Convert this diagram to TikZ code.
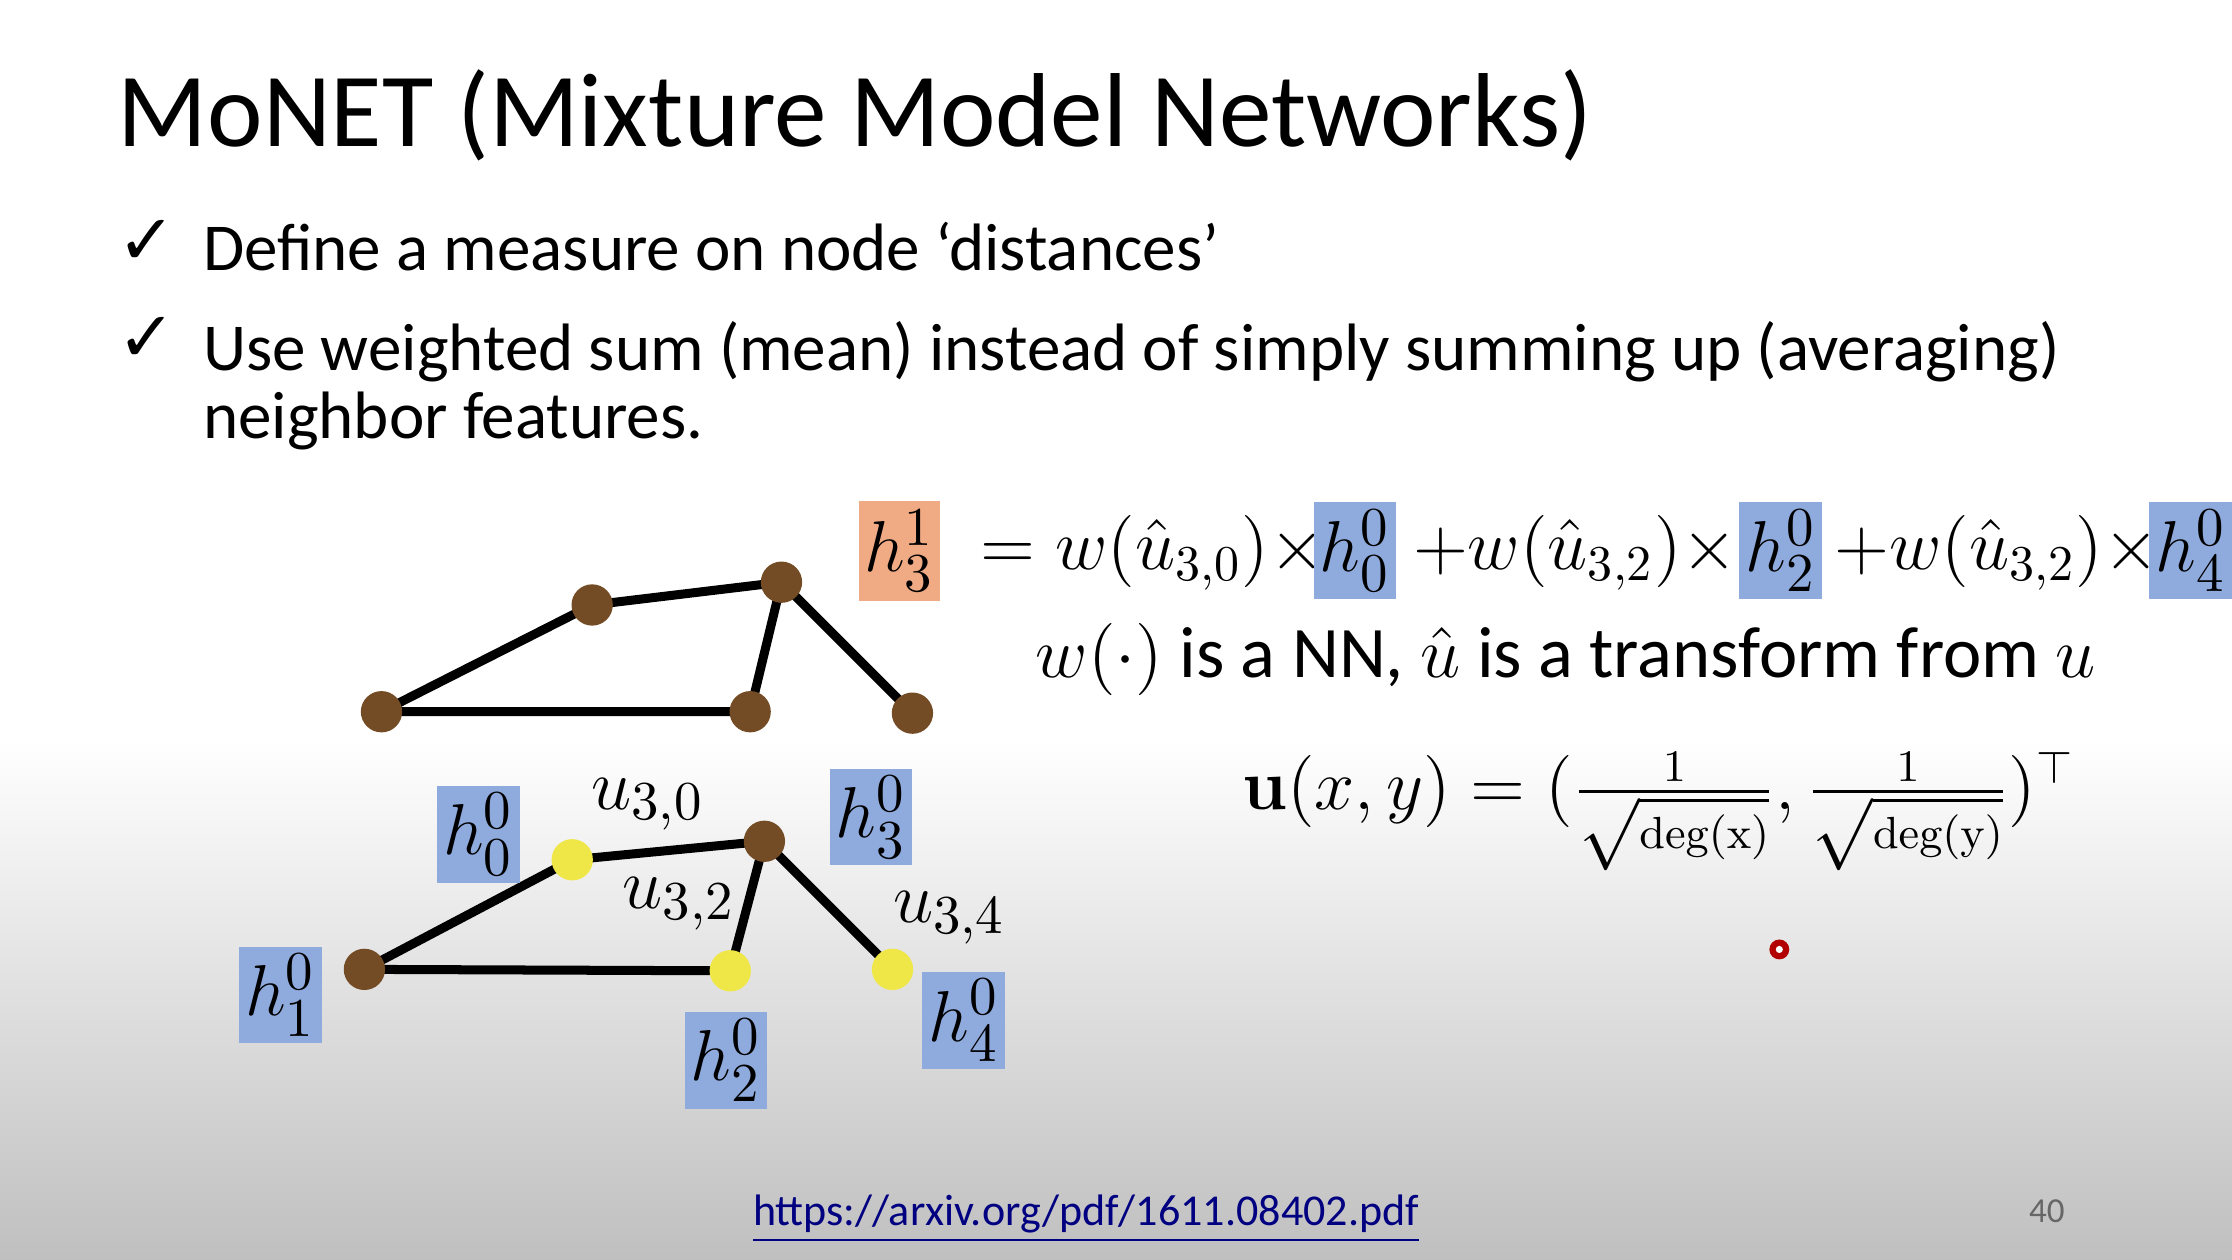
\documentclass[tikz,border=0pt]{standalone}
\usepackage{amsmath}
\usepackage[no-math]{fontspec}
\setmainfont{Carlito}
\newfontfamily\symfont{DejaVu Sans}
\definecolor{hblue}{HTML}{8FAADC}
\definecolor{horange}{HTML}{F0AB85}
\begin{document}
\begin{tikzpicture}[x=0.01cm,y=-0.01cm,
  br/.style={circle,fill=brown!60!black,draw=none,minimum size=0.29cm,inner sep=0},
  yl/.style={circle,fill=yellow!80!olive!70!white,draw=none,minimum size=0.29cm,inner sep=0},
  edge/.style={line width=1.8pt,black},
  hb/.style={fill=hblue,minimum width=0.58cm,minimum height=0.68cm,inner sep=0,font=\fontsize{15}{18}\selectfont},
  ob/.style={fill=horange,minimum width=0.57cm,minimum height=0.70cm,inner sep=0,font=\fontsize{15}{18}\selectfont},
  eq/.style={anchor=base west,inner sep=0,font=\fontsize{14.6}{18}\selectfont},
  ul/.style={font=\fontsize{15}{18}\selectfont,inner sep=0}]
\useasboundingbox (0,0) rectangle (1568,885);
\fill[white] (0,0) rectangle (1568,520);
\shade[top color=white,bottom color=black!25] (0,520) rectangle (1568,885);
\node[anchor=base west,inner sep=0,font=\fontsize{21}{25}\selectfont] (title) at (82,103) {MoNET (Mixture Model Networks)};
\node[anchor=base west,inner sep=0,font=\fontsize{14}{16}\selectfont\symfont] (c1) at (82,186) {✓};
\node[anchor=base west,inner sep=0,font=\fontsize{14}{16}\selectfont\symfont] (c2) at (82,254) {✓};
\node[anchor=base west,inner sep=0,font=\fontsize{13.4}{16}\selectfont] (b1) at (142,190) {Define a measure on node ‘distances’};
\node[anchor=base west,inner sep=0,font=\fontsize{13.4}{16}\selectfont] (b2) at (142,260) {Use weighted sum (mean) instead of simply summing up (averaging)};
\node[anchor=base west,inner sep=0,font=\fontsize{13.4}{16}\selectfont] (b3) at (142,308) {neighbor features.};
% top graph
\draw[edge] (268,500)--(416,425)--(549,409)--(527,500)--(268,500);
\draw[edge] (549,409)--(641,501);
\node[br] (a1) at (268,500) {};
\node[br] (a0) at (416,425) {};
\node[br] (a3) at (549,409) {};
\node[br] (a2) at (527,500) {};
\node[br] (a4) at (641,501) {};
% bottom graph
\draw[edge] (256,681)--(402,604)--(537,591)--(513,682)--(256,681);
\draw[edge] (537,591)--(627,681);
\node[br] (n1) at (256,681) {};
\node[yl] (n0) at (402,604) {};
\node[br] (n3) at (537,591) {};
\node[yl] (n2) at (513,682) {};
\node[yl] (n4) at (627,681) {};
\node[hb] (l0) at (336,586) {$h_0^0$};
\node[hb] (l3) at (612,574) {$h_3^0$};
\node[hb] (l1) at (197,699) {$h_1^0$};
\node[hb] (l2) at (510,745) {$h_2^0$};
\node[hb] (l4) at (677,717) {$h_4^0$};
\node[ul] (u30) at (455,565) {$u_{3,0}$};
\node[ul] (u32) at (477,635) {$u_{3,2}$};
\node[ul] (u34) at (667,645) {$u_{3,4}$};
% equation
\node[ob] (h31) at (632,387) {$h_3^1$};
\node[eq] (e1) at (688,400) {$=w(\hat u_{3,0})\times$};
\node[hb] (e2) at (952,387) {$h_0^0$};
\node[eq] (e3) at (992,400) {$+w(\hat u_{3,2})\times$};
\node[hb] (e4) at (1251,387) {$h_2^0$};
\node[eq] (e5) at (1288,400) {$+w(\hat u_{3,2})\times$};
\node[hb] (e6) at (1539,387) {$h_4^0$};
\node[anchor=base west,inner sep=0,font=\fontsize{14.5}{17}\selectfont] (desc) at (727,476) {$w(\cdot)$ is a NN, $\hat u$ is a transform from $u$};
\node[anchor=west,inner sep=0,font=\fontsize{13.5}{17}\selectfont] (ueq) at (872,570) {$\mathbf{u}(x,y)=(\frac{1}{\sqrt{\mathrm{deg(x)}}},\frac{1}{\sqrt{\mathrm{deg(y)}}})^{\top}$};
\fill[red!70!black] (1250,667) circle (7);
\fill[white] (1250,667) circle (2.5);
\node[anchor=base,inner sep=0,font=\fontsize{8.8}{11}\selectfont,text=blue!50!black] (link) at (763,861) {\underline{https://arxiv.org/pdf/1611.08402.pdf}};
\node[anchor=base,inner sep=0,font=\fontsize{7}{9}\selectfont,text=black!60] (pg) at (1438,859) {40};
\end{tikzpicture}
\end{document}
